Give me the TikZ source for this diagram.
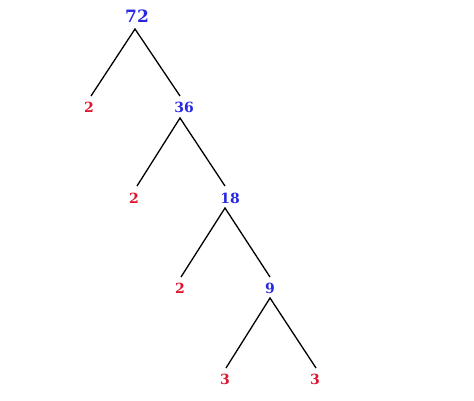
\documentclass[tikz,border=0pt]{standalone}
\usepackage{fontspec}
\setmainfont{DejaVu Serif}
\definecolor{nblue}{RGB}{40,40,225}
\definecolor{nred}{RGB}{225,20,45}
\begin{document}
\begin{tikzpicture}[x=1pt,y=-1pt,
  comp/.style={text=nblue,font=\bfseries\fontsize{14}{14}\selectfont,inner sep=0pt},
  root/.style={text=nblue,font=\bfseries\fontsize{17}{17}\selectfont,inner sep=0pt},
  prime/.style={text=nred,font=\bfseries\fontsize{14}{14}\selectfont,inner sep=0pt},
  edge/.style={draw=black,line width=1.3pt}]
\useasboundingbox (0,0) rectangle (474,401);
\node[root] (n72) at (137,16) {72};
\node[prime] (p1) at (89,107) {2};
\node[comp] (n36) at (184,107) {36};
\node[prime] (p2) at (134,198) {2};
\node[comp] (n18) at (230,198) {18};
\node[prime] (p3) at (180,288) {2};
\node[comp] (n9) at (270,288) {9};
\node[prime] (p4) at (225,379) {3};
\node[prime] (p5) at (315,379) {3};
\coordinate (a72) at (135,29);
\coordinate (l72) at (91,96);
\coordinate (r72) at (180,96);
\coordinate (a36) at (180,118);
\coordinate (l36) at (137,186);
\coordinate (r36) at (225,186);
\coordinate (a18) at (225,208);
\coordinate (l18) at (181,277);
\coordinate (r18) at (270,277);
\coordinate (a9) at (270,298);
\coordinate (l9) at (226,368);
\coordinate (r9) at (316,368);
\draw[edge] (l72) -- (a72) -- (r72);
\draw[edge] (l36) -- (a36) -- (r36);
\draw[edge] (l18) -- (a18) -- (r18);
\draw[edge] (l9) -- (a9) -- (r9);
\end{tikzpicture}
\end{document}
